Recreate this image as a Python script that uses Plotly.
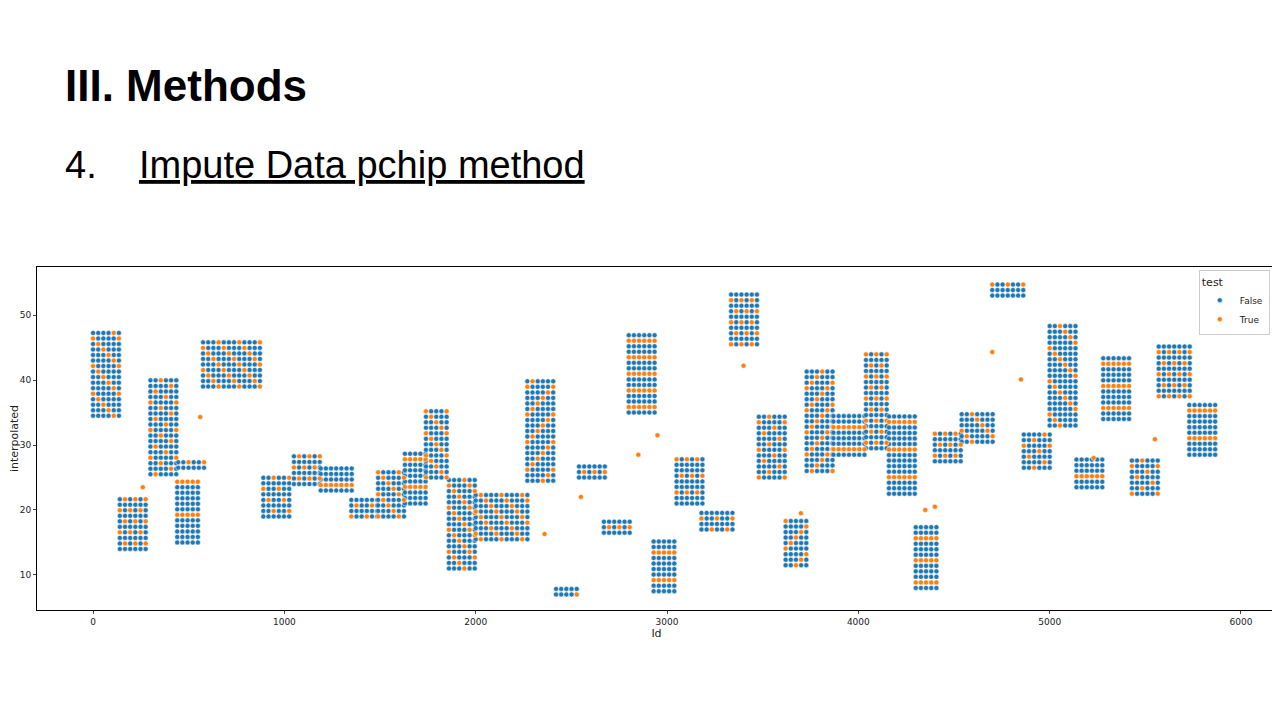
import plotly.graph_objects as go

# clusters of Id columns: id start, id end, low value, high value, share of True
blk_x0 = [0, 140, 300, 445, 440, 575, 890, 1050, 1190, 1350, 1490, 1630, 1740, 1860, 2000, 2270,
          2420, 2540, 2670, 2800, 2930, 3050, 3180, 3335, 3480, 3620, 3730, 3870, 4040, 4160,
          4300, 4400, 4540, 4700, 4865, 5000, 5140, 5280, 5430, 5570, 5730]
blk_x1 = [150, 300, 445, 580, 560, 890, 1040, 1200, 1355, 1500, 1650, 1750, 1860, 2000, 2280, 2420,
          2550, 2680, 2810, 2940, 3050, 3190, 3345, 3490, 3620, 3750, 3880, 4040, 4160, 4300,
          4410, 4550, 4710, 4870, 5000, 5150, 5300, 5430, 5580, 5740, 5890]
blk_lo = [34.5, 14, 25.5, 26.5, 15, 39, 19, 24, 23, 19, 19, 21, 25, 11, 15.5, 24.5,
          7, 25, 16.5, 35, 7.5, 21, 17, 45.5, 25, 11.5, 26, 28.5, 29.5, 22.5,
          8, 27.5, 30.5, 53, 26.5, 33, 23.5, 34, 22.5, 37.5, 28.5]
blk_hi = [48, 22, 40, 27.5, 25, 46, 25, 29, 27, 22, 26, 29, 36, 25, 23, 40,
          8, 27, 18.5, 47, 15.5, 28, 20, 54, 35, 19, 42, 35, 44.5, 35,
          18, 32, 35, 55, 32, 48.5, 28.5, 44, 28, 46, 37]
blk_true = [5, 4, 5, 6, 6, 4, 6, 4, 5, 6, 4, 5, 4, 4, 4, 5,
            9, 6, 6, 3, 5, 6, 6, 4, 5, 5, 4, 4, 4, 5,
            4, 4, 5, 9, 5, 6, 6, 4, 5, 4, 5]

# scattered True outliers
out_x = [560, 260, 2550, 2850, 2950, 3400, 3700, 4700, 4850, 4350, 4400, 5550, 2360, 5230]
out_y = [34.3, 23.5, 22, 28.5, 31.5, 42.2, 19.5, 44.3, 40.1, 20, 20.5, 30.9, 16.3, 28]

fx, fy, tx, ty = [], [], [], []
k = 0
for x0, x1, lo, hi, tr in zip(blk_x0, blk_x1, blk_lo, blk_hi, blk_true):
    xi = x0
    while xi <= x1:
        yi = lo
        while yi <= hi:
            k += 1
            if k % tr == 0:
                tx.append(xi); ty.append(yi)
            else:
                fx.append(xi); fy.append(yi)
            yi += 0.85
        xi += 27
tx += out_x; ty += out_y

fig = go.Figure()
mk = dict(size=5, line=dict(color='white', width=0.5))
fig.add_trace(go.Scatter(x=fx, y=fy, mode='markers', name='False',
                         marker=dict(color='#1f77b4', **mk)))
fig.add_trace(go.Scatter(x=tx, y=ty, mode='markers', name='True',
                         marker=dict(color='#ff7f0e', **mk)))

fig.update_layout(
    width=1280, height=720, plot_bgcolor='white', paper_bgcolor='white',
    margin=dict(l=29, r=12, t=259, b=118),
    font=dict(family='DejaVu Sans', size=9, color='#222'),
    legend=dict(title_text='test', x=0.995, y=0.99, xanchor='right', yanchor='top',
                bordercolor='#ccc', borderwidth=1, font=dict(size=9)),
    annotations=[
        dict(text='<b>III. Methods</b>', x=0.021, y=1.53, xref='paper', yref='paper',
             xanchor='left', yanchor='middle', showarrow=False,
             font=dict(family='Liberation Sans', size=44, color='black')),
        dict(text='4.    <u>Impute Data pchip method</u>', x=0.021, y=1.297, xref='paper',
             yref='paper', xanchor='left', yanchor='middle', showarrow=False,
             font=dict(family='Liberation Sans', size=38, color='black')),
    ],
)
fig.update_xaxes(range=[-293, 6183], tickvals=[0, 1000, 2000, 3000, 4000, 5000, 6000],
                 title=dict(text='Id', standoff=2), showgrid=False, zeroline=False, automargin=False,
                 showline=True, mirror=True, linecolor='black', ticks='outside', ticklen=3)
fig.update_yaxes(range=[4.6, 57.4], tickvals=[10, 20, 30, 40, 50], automargin=False,
                 title=dict(text='interpolated', standoff=2), showgrid=False, zeroline=False,
                 showline=True, mirror=True, linecolor='black', ticks='outside', ticklen=3)

fig.write_html('out.html')
